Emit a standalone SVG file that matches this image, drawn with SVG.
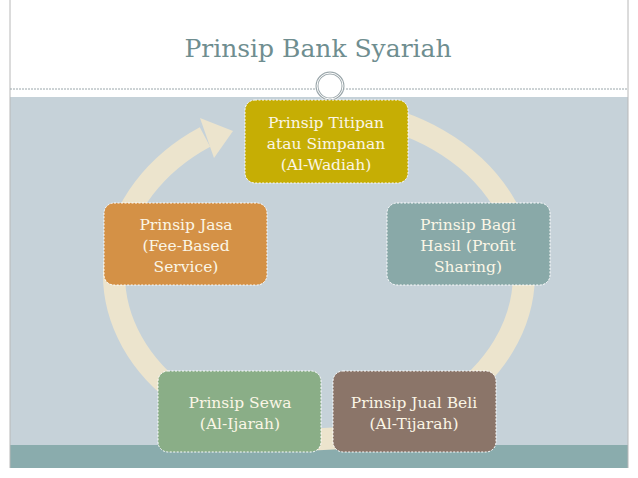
<svg xmlns="http://www.w3.org/2000/svg" width="638" height="478" viewBox="0 0 638 478">
<style>
.box{stroke:#ffffff;stroke-width:1;stroke-dasharray:2,1.5}
.t{font-family:"DejaVu Serif","Liberation Serif",serif;font-size:15.5px;fill:#fbf6e6;text-anchor:middle}
</style>
<rect width="638" height="478" fill="#ffffff"/>
<rect x="10" y="97" width="618" height="348" fill="#c6d2d9"/>
<rect x="10" y="445" width="618" height="23" fill="#8aacad"/>
<line x1="10" y1="0" x2="10" y2="468" stroke="#b8b8b8"/>
<line x1="628" y1="0" x2="628" y2="468" stroke="#b8b8b8"/>
<line x1="10" y1="89" x2="628" y2="89" stroke="#9aa6aa" stroke-dasharray="2,1"/>
<circle cx="330" cy="86" r="15" fill="#ffffff"/>
<circle cx="330" cy="86" r="13" fill="#ffffff" stroke="#9aa6aa" stroke-width="3"/>
<circle cx="330" cy="86" r="13" fill="none" stroke="#ffffff" stroke-width="1"/>
<text x="318" y="57" font-family="DejaVu Serif, Liberation Serif, serif" font-size="25" fill="#6f8e90" text-anchor="middle">Prinsip Bank Syariah</text>
<g id="connectors">
<path d="M 357 112 A 205 165 0 1 1 205 137" fill="none" stroke="#ece4cd" stroke-width="22"/>
<polygon points="200,118 233,131 214,158" fill="#ece4cd"/>
</g>
<g id="titipan"><rect class="box" x="245" y="100" width="163" height="83" rx="10" fill="#c6ae04"/>
<text class="t" x="326" y="128">Prinsip Titipan</text><text class="t" x="326" y="149">atau Simpanan</text><text class="t" x="326" y="170">(Al-Wadiah)</text></g>
<g id="jasa"><rect class="box" x="104" y="203" width="163" height="82" rx="10" fill="#d49146"/>
<text class="t" x="186" y="230">Prinsip Jasa</text><text class="t" x="186" y="251">(Fee-Based</text><text class="t" x="186" y="272">Service)</text></g>
<g id="bagi"><rect class="box" x="387" y="203" width="163" height="82" rx="10" fill="#89a9a8"/>
<text class="t" x="468" y="230">Prinsip Bagi</text><text class="t" x="468" y="251">Hasil (Profit</text><text class="t" x="468" y="272">Sharing)</text></g>
<g id="sewa"><rect class="box" x="158" y="371" width="163" height="81" rx="10" fill="#8aae87"/>
<text class="t" x="240" y="408">Prinsip Sewa</text><text class="t" x="240" y="429">(Al-Ijarah)</text></g>
<g id="jual"><rect class="box" x="333" y="371" width="163" height="81" rx="10" fill="#8b7569"/>
<text class="t" x="414" y="408">Prinsip Jual Beli</text><text class="t" x="414" y="429">(Al-Tijarah)</text></g>
</svg>
